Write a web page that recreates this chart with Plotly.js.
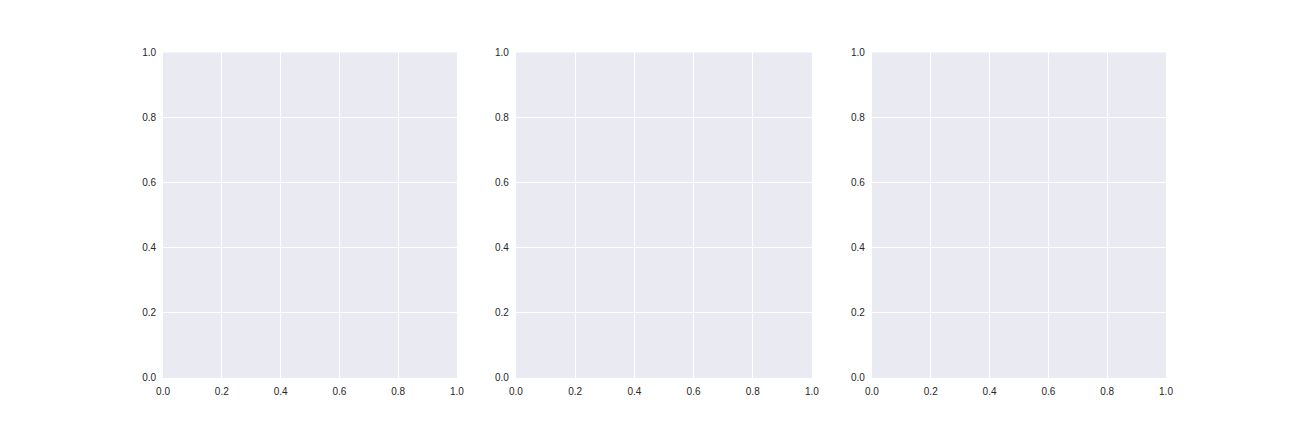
<!DOCTYPE html>
<html><head><meta charset="utf-8">
<script src="https://cdn.plot.ly/plotly-3.0.1.min.js"></script>
<style>html,body{margin:0;padding:0;background:#fff}#c{width:1296px;height:432px}</style>
</head><body><div id="c"></div>
<script>
const xTicks = [0, 0.2, 0.4, 0.6, 0.8, 1.0];
const yTicks = [0, 0.2, 0.4, 0.6, 0.8, 1.0];
const tickLabels = ['0.0', '0.2', '0.4', '0.6', '0.8', '1.0'];
const xRange = [0, 1];
const yRange = [0, 1];
const panelX = [[0.1258, 0.3526], [0.3981, 0.6265], [0.6728, 0.8997]];
const panelY = [0.125, 0.8785];

const font = {family: 'Liberation Sans, Arial, sans-serif', size: 10, color: '#262626'};
function ax(domain, ticks, anchor) {
  return {domain: domain, range: xRange, tickvals: ticks, ticktext: tickLabels,
    showgrid: true, gridcolor: '#ffffff', gridwidth: 1, zeroline: false, showline: false,
    ticks: 'outside', ticklen: 4, tickcolor: 'rgba(0,0,0,0)', tickfont: font,
    anchor: anchor, fixedrange: true};
}
const data = [];
const layout = {width: 1296, height: 432, margin: {l: 0, r: 0, t: 0, b: 0},
  paper_bgcolor: '#ffffff', plot_bgcolor: '#EAEAF2', showlegend: false, font: font};
for (let i = 0; i < 3; i++) {
  const s = i === 0 ? '' : String(i + 1);
  data.push({x: [], y: [], type: 'scatter', mode: 'markers', xaxis: 'x' + s, yaxis: 'y' + s, hoverinfo: 'skip'});
  const xa = ax(panelX[i], xTicks, 'y' + s);
  const ya = ax(panelY, yTicks, 'x' + s);
  ya.range = yRange;
  layout['xaxis' + s] = xa;
  layout['yaxis' + s] = ya;
}
Plotly.newPlot('c', data, layout, {staticPlot: true, displayModeBar: false});
</script></body></html>
